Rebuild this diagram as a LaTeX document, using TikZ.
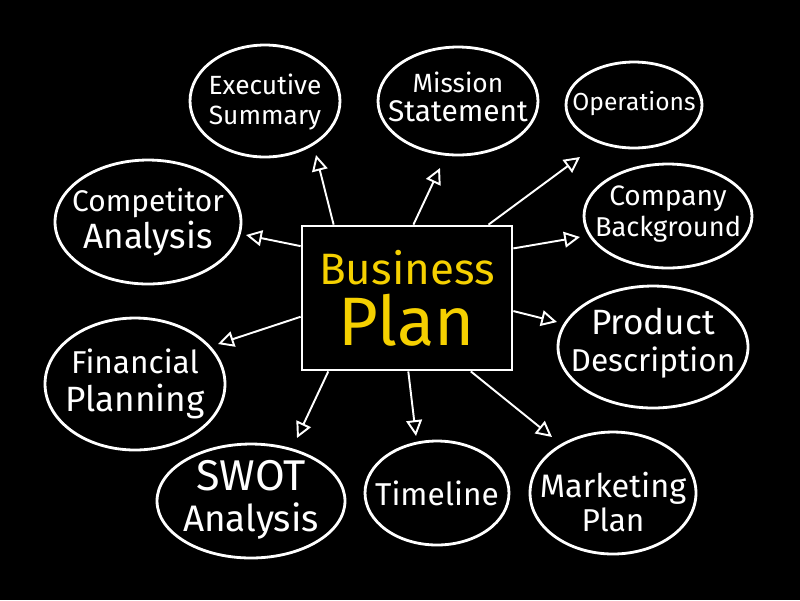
\documentclass[tikz,border=0pt]{standalone}
\usepackage{fontspec}
\setmainfont{Fira Sans}
\usetikzlibrary{arrows.meta}
\definecolor{planyellow}{HTML}{F5D000}
\newcommand{\fs}[1]{\fontsize{#1}{1.15\dimexpr#1pt\relax}\selectfont}
\begin{document}
\begin{tikzpicture}[x=0.02cm, y=-0.02cm,
    idea/.style={text=white, align=center, inner sep=0pt},
    ring/.style={white, line width=1.6pt},
    arr/.style={white, line width=1.1pt, -{Triangle[open, length=9pt, width=9pt]}}]
    \fill[black] (0,0) rectangle (800,600);
    % centre
    \node[draw=white, line width=1.6pt, minimum width=4.2cm, minimum height=2.88cm, text=planyellow, align=center, inner sep=0pt, font=\fs{30}] (plan) at (407,298) {\fs{25}Business\\\fs{39}Plan};
    % ideas
    \node[idea, font=\fs{15}] (exec) at (265,102) {Executive\\Summary};
    \node[idea, font=\fs{14.5}] (mission) at (458,97) {\fs{15}Mission\\\fs{17}Statement};
    \node[idea] (oper) at (634,104) {\fs{14}Operations};
    \node[idea, font=\fs{18}] (compet) at (148,222) {\fs{17}Competitor\\\fs{20}Analysis};
    \node[idea, font=\fs{15.5}] (company) at (668,214) {\fs{16}Company\\\fs{15.5}Background};
    \node[idea, font=\fs{18}] (product) at (653,343) {\fs{20}Product\\\fs{18}Description};
    \node[idea, font=\fs{19}] (finance) at (135,384) {\fs{18}Financial\\\fs{20}Planning};
    \node[idea, font=\fs{20}] (swot) at (251,500) {\fs{24.5}SWOT\\\fs{21}Analysis};
    \node[idea, font=\fs{18}] (timeline) at (437,493) {Timeline};
    \node[idea, font=\fs{17}] (market) at (613,502) {\fs{18.5}Marketing\\\fs{18}Plan};
    % rings
    \draw[ring] (265,101) ellipse [x radius=1.5cm, y radius=1.12cm];
    \draw[ring] (458,101) ellipse [x radius=1.6cm, y radius=1.08cm];
    \draw[ring] (634,105) ellipse [x radius=1.36cm, y radius=0.86cm];
    \draw[ring] (148,222) ellipse [x radius=1.86cm, y radius=1.24cm];
    \draw[ring] (668,216) ellipse [x radius=1.68cm, y radius=1.04cm];
    \draw[ring] (653,347) ellipse [x radius=1.9cm, y radius=1.22cm];
    \draw[ring] (135,384) ellipse [x radius=1.8cm, y radius=1.32cm];
    \draw[ring] (251,501) ellipse [x radius=1.88cm, y radius=1.14cm];
    \draw[ring] (437,493) ellipse [x radius=1.44cm, y radius=1.04cm];
    \draw[ring] (613,493) ellipse [x radius=1.66cm, y radius=1.22cm];
    % arrow tips
    \coordinate (t-exec) at (316,155);
    \coordinate (t-mission) at (440,168);
    \coordinate (t-oper) at (580,157);
    \coordinate (t-company) at (580,237);
    \coordinate (t-product) at (557,322);
    \coordinate (t-market) at (552,437);
    \coordinate (t-timeline) at (416,436);
    \coordinate (t-swot) at (297,438);
    \coordinate (t-finance) at (218,344);
    \coordinate (t-compet) at (246,235);
    \draw[arr] (plan.135) -- (t-exec);
    \draw[arr] (plan.85) -- (t-mission);
    \draw[arr] (plan.42) -- (t-oper);
    \draw[arr] (plan.25) -- (t-company);
    \draw[arr] (plan.-7) -- (t-product);
    \draw[arr] (plan.-49) -- (t-market);
    \draw[arr] (plan.-89) -- (t-timeline);
    \draw[arr] (plan.-137) -- (t-swot);
    \draw[arr] (plan.190) -- (t-finance);
    \draw[arr] (plan.154) -- (t-compet);
\end{tikzpicture}
\end{document}
